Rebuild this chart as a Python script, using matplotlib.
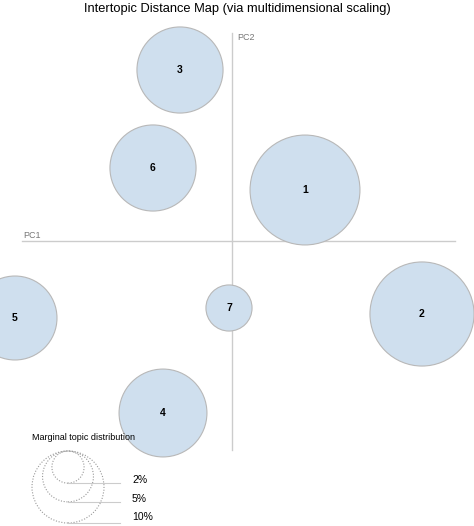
import matplotlib.pyplot as plt
from matplotlib.patches import Circle
import numpy as np

# topic positions on the two principal components and marginal share (%)
topics = [1, 2, 3, 4, 5, 6, 7]
pc1 = [73, 190, -52, -69, -217, -79, -3]
pc2 = [51, -73, 171, -172, -77, 73, -67]
share = [23.3, 20.9, 14.3, 14.9, 13.6, 14.3, 4.1]

legend_share = [2, 5, 10]
legend_labels = ["2%", "5%", "10%"]


def radius(p):
    return 36 * np.sqrt(p / 10.0)


plt.rcParams['font.family'] = ['Liberation Sans', 'DejaVu Sans']

fig = plt.figure(figsize=(4.74, 5.26), dpi=100)
ax = fig.add_axes([0, 0, 1, 1])
ax.set_xlim(-232, 242)
ax.set_ylim(-285, 241)
ax.set_aspect('equal')
ax.axis('off')

# axes cross
ax.plot([0, 0], [-209, 208], color='#cccccc', lw=1, zorder=1)
ax.plot([-210, 223], [0, 0], color='#cccccc', lw=1, zorder=1)
ax.text(5, 203, "PC2", color='#777777', fontsize=6.5, ha='left', va='center')
ax.text(-209, 6, "PC1", color='#777777', fontsize=6.5, ha='left', va='center')

for t, x, y, p in zip(topics, pc1, pc2, share):
    ax.add_patch(Circle((x, y), radius(p), facecolor='#cfdfee',
                        edgecolor='#b8b8b8', lw=0.8, zorder=2))
    ax.text(x, y, str(t), fontsize=7.5, fontweight='bold', ha='center',
            va='center', zorder=3)

# marginal distribution legend
top = -210
cx = -164
ax.text(-200, -197, "Marginal topic distribution", fontsize=6.5,
        ha='left', va='center')
for p, lab in zip(legend_share, legend_labels):
    r = radius(p)
    ax.add_patch(Circle((cx, top - r), r, fill=False, edgecolor='#999999',
                        lw=0.8, linestyle=(0, (1, 1.5)), zorder=2))
    ax.plot([cx, -112], [top - 2 * r, top - 2 * r], color='#cccccc', lw=0.8)
    ax.text(-100, max(top - 2 * r, -279) - 2, lab, fontsize=7.5, ha='left',
            va='bottom')

fig.suptitle("Intertopic Distance Map (via multidimensional scaling)",
             fontsize=9.3, y=0.995, va='top')

plt.savefig("out.png", dpi=100)
